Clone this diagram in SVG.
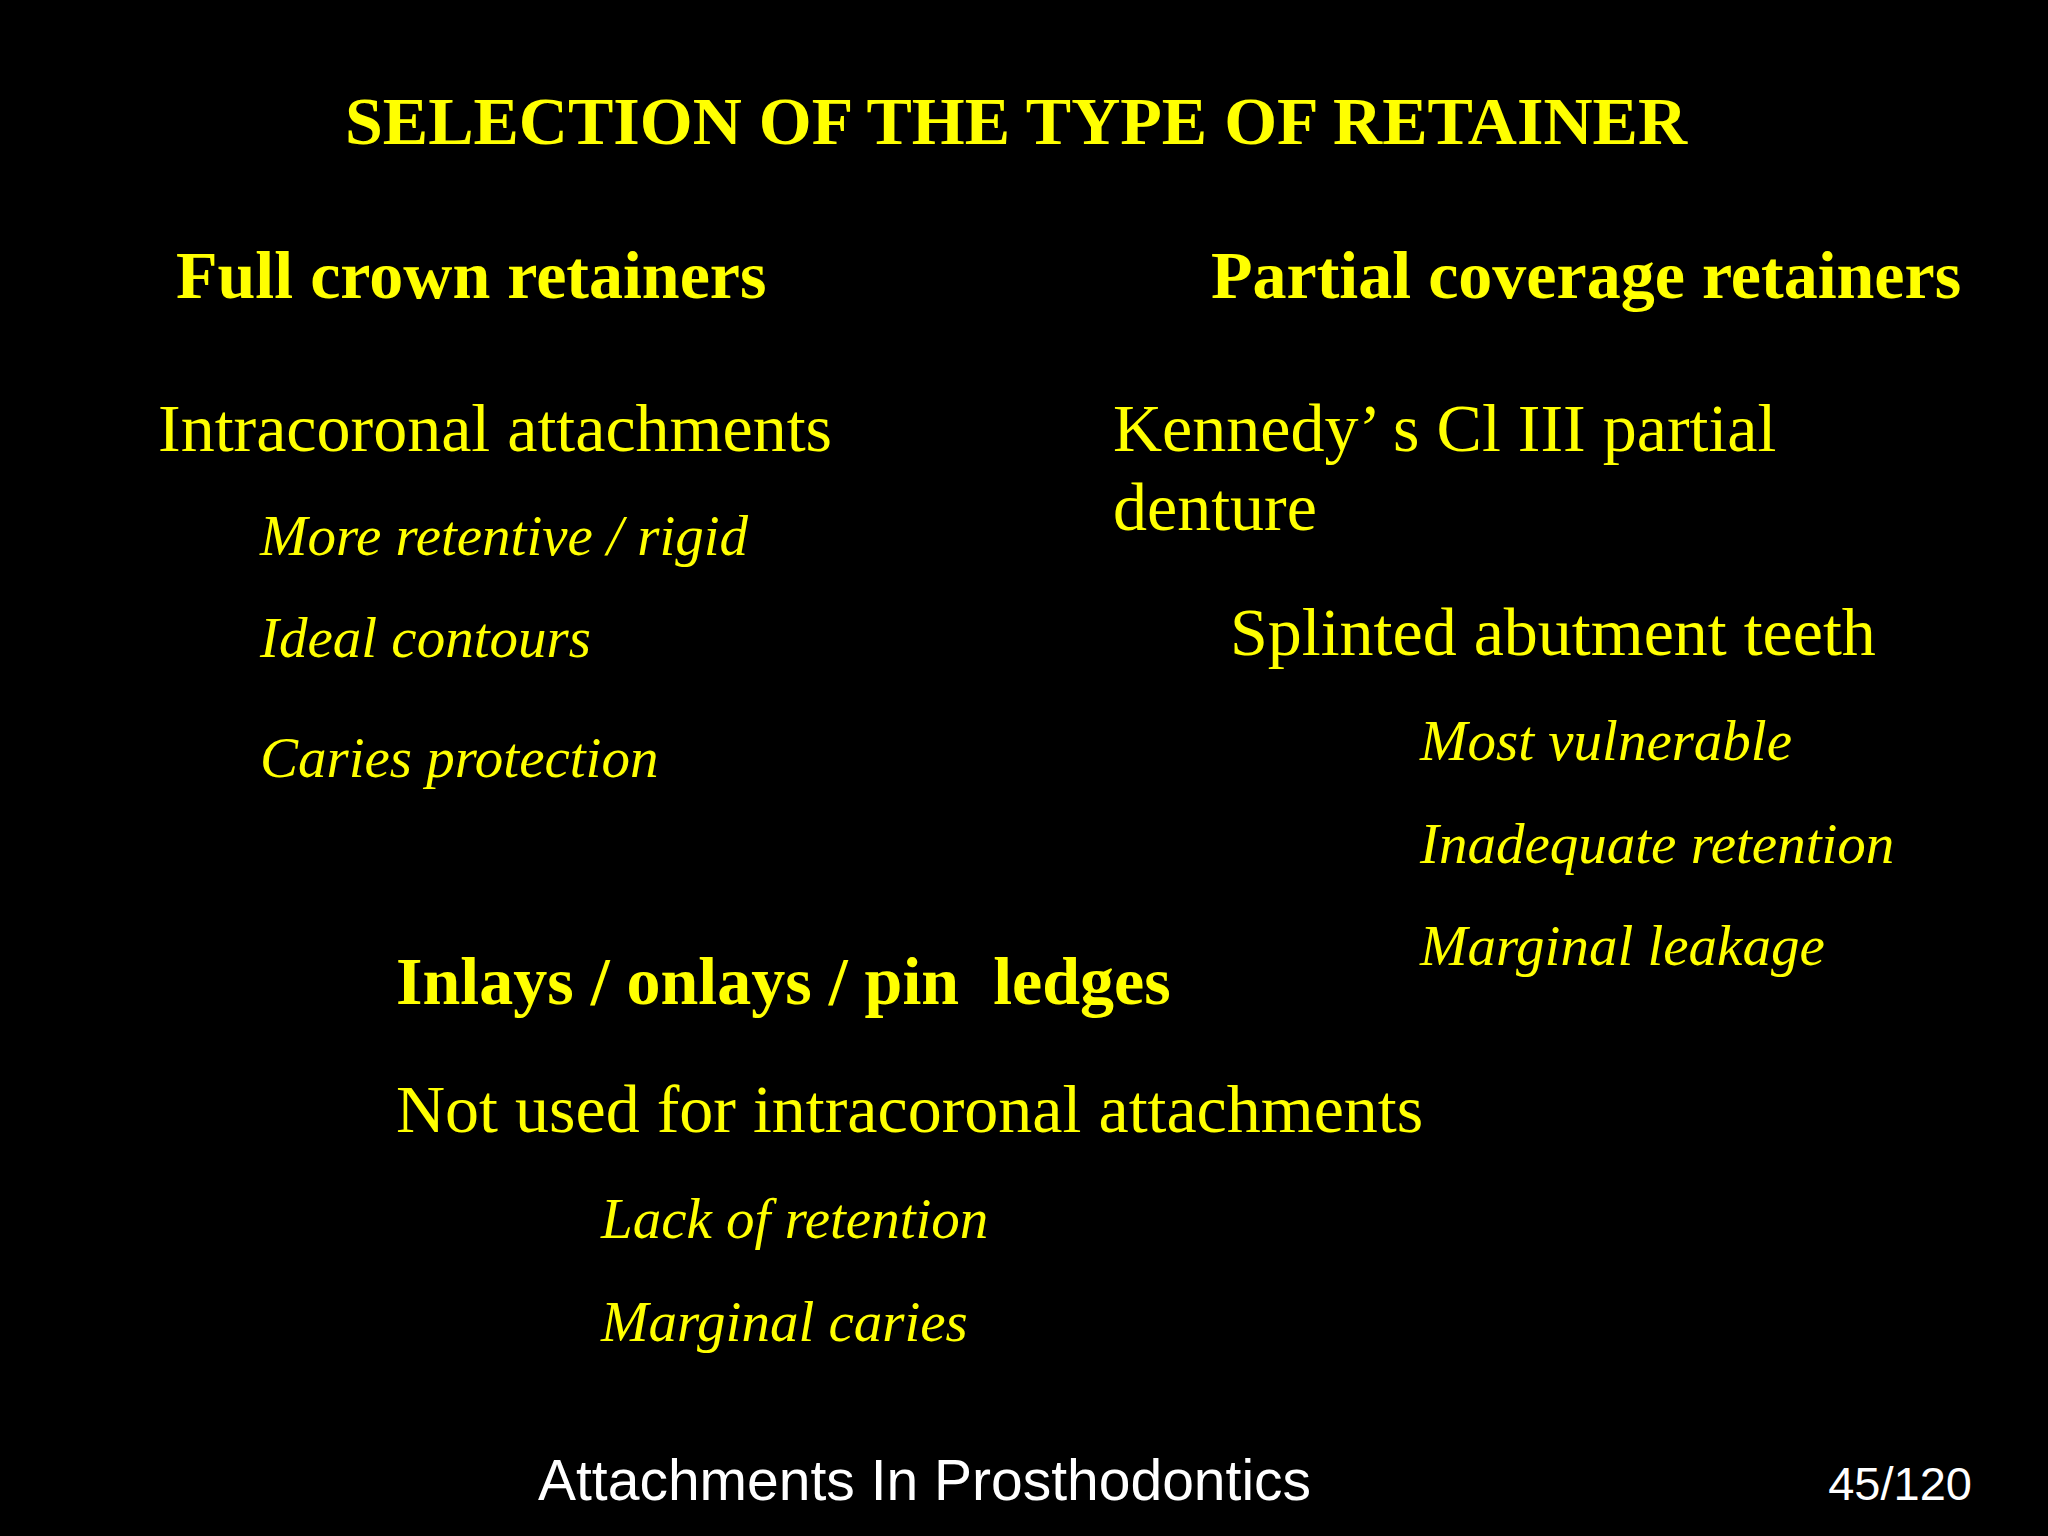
<svg xmlns="http://www.w3.org/2000/svg" width="2048" height="1536" viewBox="0 0 2048 1536">
<style>
.t{font-family:"Liberation Serif","Times New Roman",serif;fill:#FFFF00}
.b{font-weight:bold}
.h{font-size:68px}
.r{font-size:68px}
.i{font-size:57px;font-style:italic}
.f{font-family:"Liberation Sans",Arial,sans-serif;fill:#FFFFFF}
</style>
<rect width="2048" height="1536" fill="#000"/>
<text class="t b" x="1016" y="144" font-size="68" text-anchor="middle">SELECTION OF THE TYPE OF RETAINER</text>
<text class="t b h" x="176" y="298">Full crown retainers</text>
<text class="t b h" x="1211" y="298">Partial coverage retainers</text>
<text class="t r" x="158" y="451">Intracoronal attachments</text>
<text class="t i" x="260" y="555">More retentive / rigid</text>
<text class="t i" x="260" y="657">Ideal contours</text>
<text class="t i" x="260" y="777">Caries protection</text>
<text class="t r" x="1113" y="451">Kennedy’ s Cl III partial</text>
<text class="t r" x="1113" y="530">denture</text>
<text class="t r" x="1230" y="655">Splinted abutment teeth</text>
<text class="t i" x="1420" y="760">Most vulnerable</text>
<text class="t i" x="1420" y="863">Inadequate retention</text>
<text class="t i" x="1420" y="965">Marginal leakage</text>
<text class="t b h" x="396" y="1004" xml:space="preserve">Inlays / onlays / pin  ledges</text>
<text class="t r" x="396" y="1132">Not used for intracoronal attachments</text>
<text class="t i" x="601" y="1238">Lack of retention</text>
<text class="t i" x="601" y="1341">Marginal caries</text>
<text class="f" x="538" y="1500" font-size="57">Attachments In Prosthodontics</text>
<text class="f" x="1972" y="1500" font-size="47" text-anchor="end">45/120</text>
</svg>
